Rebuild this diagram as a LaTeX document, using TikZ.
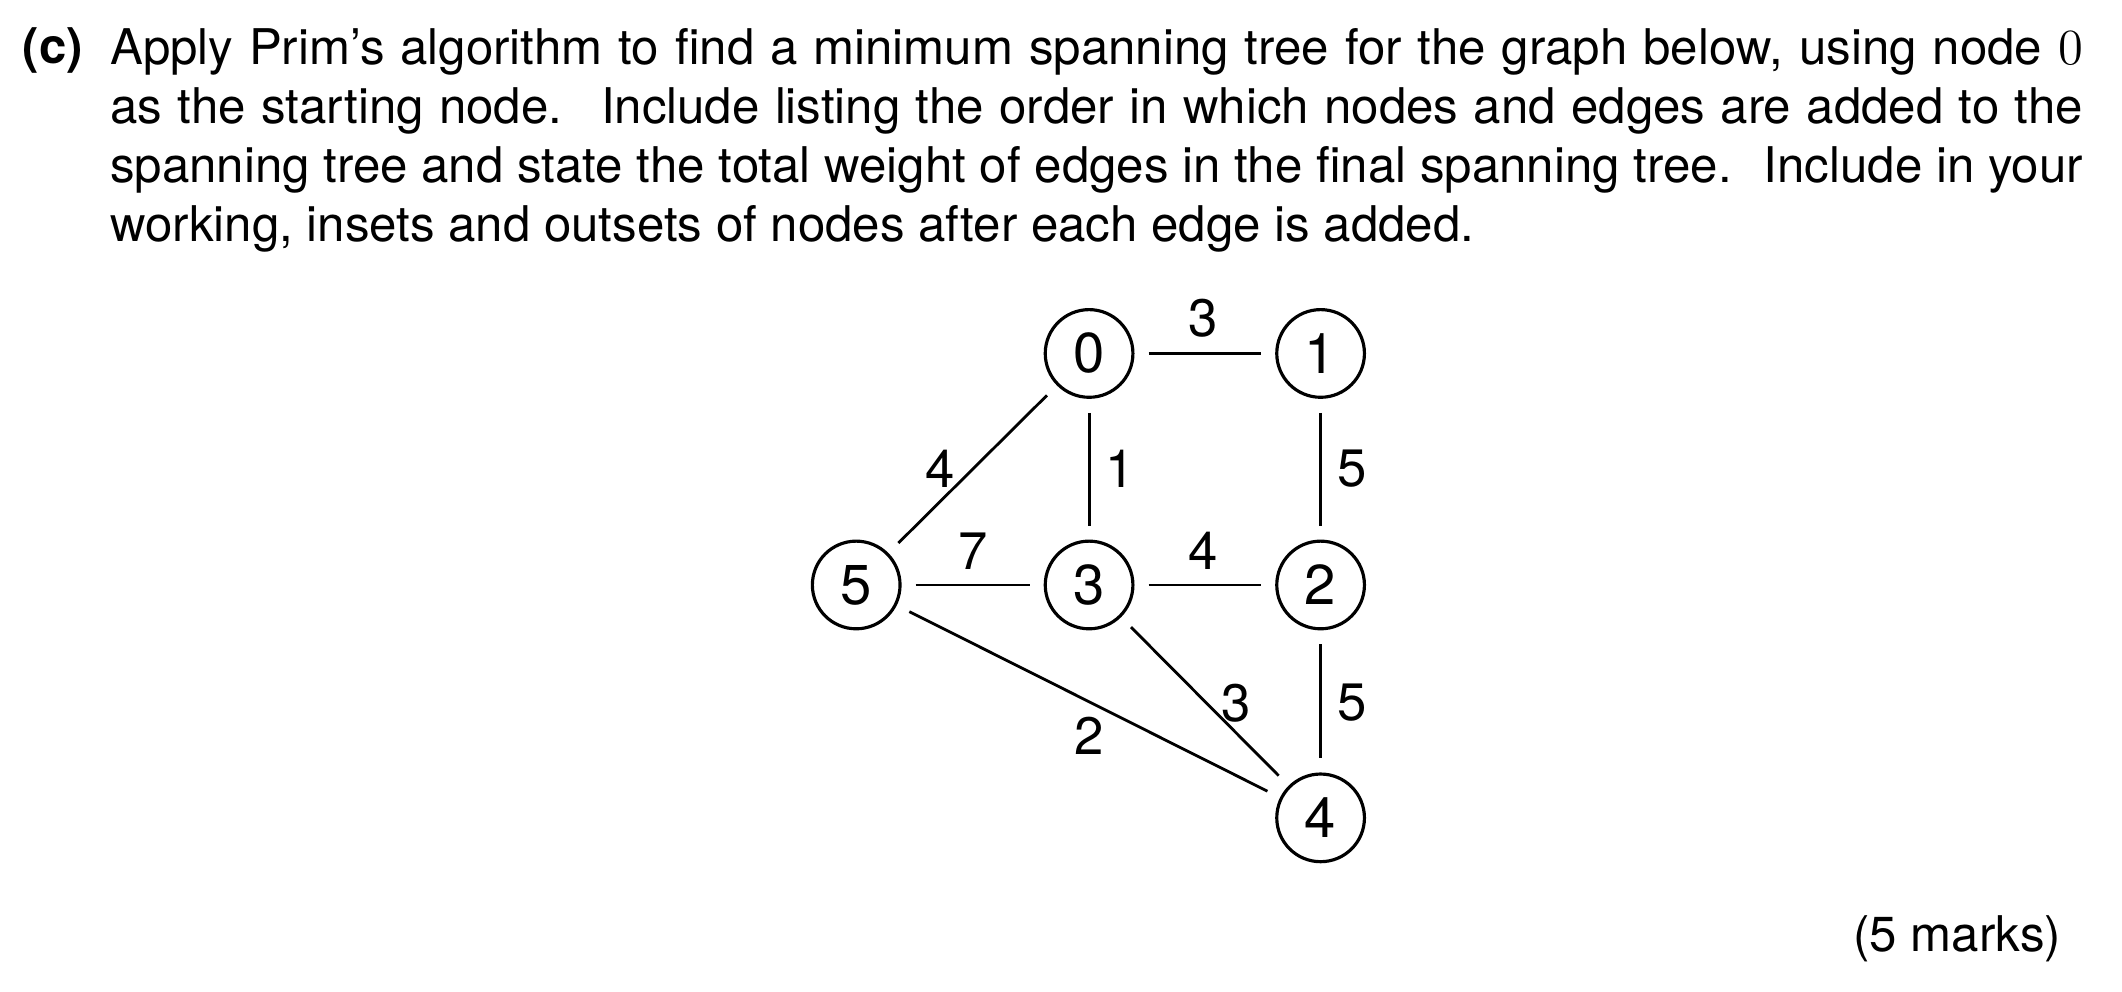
\documentclass[tikz,border=0pt]{standalone}
\usepackage{fontspec}
\setmainfont{TeX Gyre Heros}
\begin{document}
\begin{tikzpicture}[x=0.0137cm,y=-0.0137cm,
  vx/.style={circle,draw,line width=0.9pt,minimum size=64*0.0137cm,inner sep=0pt,font=\fontsize{16}{18}\selectfont},
  ed/.style={line width=0.8pt,shorten >=4pt,shorten <=4pt},
  wt/.style={font=\fontsize{15}{18}\selectfont,inner sep=1pt}]
\useasboundingbox (0,0) rectangle (1549,724);
\node[anchor=north west,inner sep=0pt,font=\fontsize{14}{16.8}\selectfont\bfseries] (c) at (16,20) {(c)};
\node[anchor=north west,inner sep=0pt,text width=1440*0.0137cm,align=justify,font=\fontsize{14}{16.8}\selectfont] (p) at (80,20)
{Apply Prim's algorithm to find a minimum spanning tree for the graph below, using node $0$ as the starting node. \ Include listing the order in which nodes and edges are added to the spanning tree and state the total weight of edges in the final spanning tree. \ Include in your working, insets and outsets of nodes after each edge is added.};
\node[vx] (n0) at (795,258) {0};
\node[vx] (n1) at (964,258) {1};
\node[vx] (n5) at (625,427) {5};
\node[vx] (n3) at (795,427) {3};
\node[vx] (n2) at (964,427) {2};
\node[vx] (n4) at (964,597) {4};
\draw[ed] (n0)--(n1);
\draw[ed] (n0)--(n3);
\draw[ed] (n0)--(n5);
\draw[ed] (n1)--(n2);
\draw[ed] (n5)--(n3);
\draw[ed] (n3)--(n2);
\draw[ed] (n2)--(n4);
\draw[ed] (n3)--(n4);
\draw[ed] (n5)--(n4);
\node[wt] (w01) at (878,232) {3};
\node[wt] (w05) at (686,342) {4};
\node[wt] (w03) at (818,342) {1};
\node[wt] (w12) at (987,342) {5};
\node[wt] (w53) at (710,402) {7};
\node[wt] (w32) at (878,402) {4};
\node[wt] (w34) at (902,513) {3};
\node[wt] (w24) at (987,513) {5};
\node[wt] (w54) at (795,537) {2};
\node[anchor=east,inner sep=0pt,font=\fontsize{14}{16.8}\selectfont] (m) at (1505,685) {(5 marks)};
\end{tikzpicture}
\end{document}
